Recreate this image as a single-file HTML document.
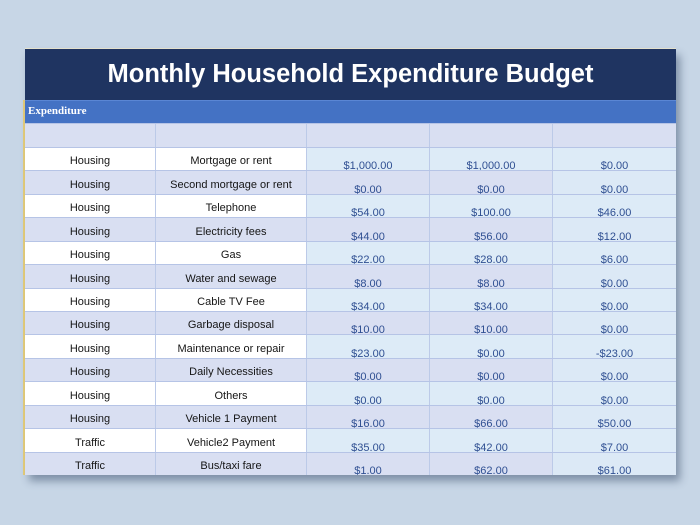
<!DOCTYPE html>
<html><head><meta charset="utf-8"><style>
*{margin:0;padding:0;box-sizing:border-box}
body{width:700px;height:525px;background:#c7d6e6;position:relative;overflow:hidden;font-family:"Liberation Sans",Arial,sans-serif}
.card{position:absolute;left:25px;top:49px;width:651px;height:426px;background:#dde6f4;box-shadow:4px 6px 8px rgba(40,60,90,0.45)}
.topline{position:absolute;left:25px;top:48px;width:651px;height:1px;background:#e9e6cf}
.yl{position:absolute;left:23px;top:100px;width:2px;height:375px;background:#e8cf7a}
.title{position:absolute;left:0;top:0;width:651px;height:51px;background:#1f3461;color:#fff;font-weight:bold;font-size:25.5px;text-align:center;line-height:51px}
.band{position:absolute;left:0;top:51px;width:651px;height:23px;background:#4472c4;border-top:1px solid #5a86d4}
.band span{position:absolute;left:3px;top:4px;font-family:"Liberation Serif","Times New Roman",serif;font-weight:bold;font-size:11px;color:#fff}
.row{position:absolute;left:0;width:651px;border-top:1px solid #b6c4e6}
.c{position:absolute;top:0;bottom:0;border-left:1px solid #bccae8;text-align:center;font-size:11px;white-space:nowrap}
.c1{left:0;width:130px;border-left:none}
.c2{left:130px;width:151px}
.c3{left:281px;width:123px}
.c4{left:404px;width:123px}
.c5{left:527px;width:124px}
.lab{color:#151515}
.val{color:#2f4f92}
.lab span{position:absolute;left:0;right:0;top:50%;transform:translateY(-35%)}
.val span{position:absolute;left:0;right:0;bottom:-2px}
.w .c1,.w .c2{background:#ffffff}
.w .c3,.w .c4,.w .c5{background:#ddebf7}
.l .c1,.l .c2,.l .c3,.l .c4{background:#d9dff2}
.l .c5{background:#dce9f6}
.hdr .c{background:#d9dff2}
</style></head><body>
<div class="yl"></div>
<div class="topline"></div>
<div class="card">
<div class="title">Monthly Household Expenditure Budget</div>
<div class="band"><span>Expenditure</span></div>
<div class="row hdr" style="top:74px;height:24px"><div class="c c1"></div><div class="c c2"></div><div class="c c3"></div><div class="c c4"></div><div class="c c5"></div></div>

<div class="row w" style="top:98px;height:23px"><div class="c c1 lab"><span>Housing</span></div><div class="c c2 lab"><span>Mortgage or rent</span></div><div class="c c3 val"><span>$1,000.00</span></div><div class="c c4 val"><span>$1,000.00</span></div><div class="c c5 val"><span>$0.00</span></div></div>
<div class="row l" style="top:121px;height:24px"><div class="c c1 lab"><span>Housing</span></div><div class="c c2 lab"><span>Second mortgage or rent</span></div><div class="c c3 val"><span>$0.00</span></div><div class="c c4 val"><span>$0.00</span></div><div class="c c5 val"><span>$0.00</span></div></div>
<div class="row w" style="top:145px;height:23px"><div class="c c1 lab"><span>Housing</span></div><div class="c c2 lab"><span>Telephone</span></div><div class="c c3 val"><span>$54.00</span></div><div class="c c4 val"><span>$100.00</span></div><div class="c c5 val"><span>$46.00</span></div></div>
<div class="row l" style="top:168px;height:24px"><div class="c c1 lab"><span>Housing</span></div><div class="c c2 lab"><span>Electricity fees</span></div><div class="c c3 val"><span>$44.00</span></div><div class="c c4 val"><span>$56.00</span></div><div class="c c5 val"><span>$12.00</span></div></div>
<div class="row w" style="top:192px;height:23px"><div class="c c1 lab"><span>Housing</span></div><div class="c c2 lab"><span>Gas</span></div><div class="c c3 val"><span>$22.00</span></div><div class="c c4 val"><span>$28.00</span></div><div class="c c5 val"><span>$6.00</span></div></div>
<div class="row l" style="top:215px;height:24px"><div class="c c1 lab"><span>Housing</span></div><div class="c c2 lab"><span>Water and sewage</span></div><div class="c c3 val"><span>$8.00</span></div><div class="c c4 val"><span>$8.00</span></div><div class="c c5 val"><span>$0.00</span></div></div>
<div class="row w" style="top:239px;height:23px"><div class="c c1 lab"><span>Housing</span></div><div class="c c2 lab"><span>Cable TV Fee</span></div><div class="c c3 val"><span>$34.00</span></div><div class="c c4 val"><span>$34.00</span></div><div class="c c5 val"><span>$0.00</span></div></div>
<div class="row l" style="top:262px;height:23px"><div class="c c1 lab"><span>Housing</span></div><div class="c c2 lab"><span>Garbage disposal</span></div><div class="c c3 val"><span>$10.00</span></div><div class="c c4 val"><span>$10.00</span></div><div class="c c5 val"><span>$0.00</span></div></div>
<div class="row w" style="top:285px;height:24px"><div class="c c1 lab"><span>Housing</span></div><div class="c c2 lab"><span>Maintenance or repair</span></div><div class="c c3 val"><span>$23.00</span></div><div class="c c4 val"><span>$0.00</span></div><div class="c c5 val"><span>-$23.00</span></div></div>
<div class="row l" style="top:309px;height:23px"><div class="c c1 lab"><span>Housing</span></div><div class="c c2 lab"><span>Daily Necessities</span></div><div class="c c3 val"><span>$0.00</span></div><div class="c c4 val"><span>$0.00</span></div><div class="c c5 val"><span>$0.00</span></div></div>
<div class="row w" style="top:332px;height:24px"><div class="c c1 lab"><span>Housing</span></div><div class="c c2 lab"><span>Others</span></div><div class="c c3 val"><span>$0.00</span></div><div class="c c4 val"><span>$0.00</span></div><div class="c c5 val"><span>$0.00</span></div></div>
<div class="row l" style="top:356px;height:23px"><div class="c c1 lab"><span>Housing</span></div><div class="c c2 lab"><span>Vehicle 1 Payment</span></div><div class="c c3 val"><span>$16.00</span></div><div class="c c4 val"><span>$66.00</span></div><div class="c c5 val"><span>$50.00</span></div></div>
<div class="row w" style="top:379px;height:24px"><div class="c c1 lab"><span>Traffic</span></div><div class="c c2 lab"><span>Vehicle2 Payment</span></div><div class="c c3 val"><span>$35.00</span></div><div class="c c4 val"><span>$42.00</span></div><div class="c c5 val"><span>$7.00</span></div></div>
<div class="row l" style="top:403px;height:23px"><div class="c c1 lab"><span>Traffic</span></div><div class="c c2 lab"><span>Bus/taxi fare</span></div><div class="c c3 val"><span>$1.00</span></div><div class="c c4 val"><span>$62.00</span></div><div class="c c5 val"><span>$61.00</span></div></div>
</div>
</body></html>
